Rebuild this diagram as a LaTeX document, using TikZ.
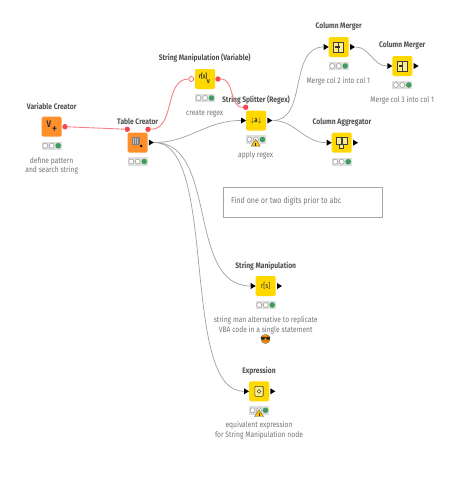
\documentclass[tikz,border=0pt]{standalone}
\usepackage{fontspec}
\usetikzlibrary{shapes.geometric}
\setmainfont[FakeStretch=0.84]{Fira Sans}
\newfontfamily\emojifont{Noto Emoji}
\definecolor{nodeyellow}{HTML}{FFD800}
\definecolor{nodeorange}{HTML}{FF8F2B}
\definecolor{portred}{HTML}{F2484F}
\definecolor{linkred}{HTML}{F27F85}
\definecolor{linkgray}{HTML}{A0A0A0}
\definecolor{titlegray}{HTML}{505050}
\definecolor{textgray}{HTML}{747474}
\definecolor{lightgreen}{HTML}{3F9E5F}
\tikzset{
  box/.style={rounded corners=1.5pt, minimum size=20pt, inner sep=0pt},
  yellowbox/.style={box, fill=nodeyellow},
  orangebox/.style={box, fill=nodeorange},
  tri/.style={isosceles triangle, isosceles triangle stretches, fill=black, minimum width=6pt, minimum height=5pt, inner sep=0pt},
  varport/.style={circle, fill=portred, minimum size=5.4pt, inner sep=0pt},
  hollowport/.style={circle, draw=portred, fill=white, line width=0.6pt, minimum size=5pt, inner sep=0pt},
  title/.style={font=\fontsize{8}{9}\selectfont\bfseries, text=titlegray, inner sep=0pt},
  caption/.style={font=\fontsize{8}{9.6}\selectfont, text=textgray, align=center, inner sep=0pt},
  glyph/.style={font=\fontsize{7}{8}\selectfont\bfseries, text=black!80, inner sep=0pt},
  redlink/.style={draw=linkred, line width=0.9pt},
  graylink/.style={draw=linkgray, line width=0.7pt},
  icon/.style={draw=black!75, line width=0.6pt, fill=nodeyellow!45!white},
  warnbox/.style={isosceles triangle, isosceles triangle stretches, shape border rotate=90, fill=nodeyellow!80!orange, draw=black!60, line width=0.4pt, minimum width=9pt, minimum height=7pt, inner sep=0pt}
}
% status bar under a node
\newcommand{\lights}[2]{
  \fill[black!13] (#1-10,#2+14.8) rectangle (#1+10,#2+23.2);
  \foreach \dx in {-6.5,0} \draw[black!45, fill=white, line width=0.4pt] (#1+\dx,#2+19) circle (2.5);
  \fill[lightgreen] (#1+6.5,#2+19) circle (2.8);
}
% yellow node with its two data ports
\newcommand{\datanode}[3]{
  \node[yellowbox] (#1) at (#2,#3) {};
  \node[tri] (#1-in) at (#2-13.3,#3) {};
  \node[tri] (#1-out) at (#2+13,#3) {};
  \lights{#2}{#3}
}
\begin{document}
\begin{tikzpicture}[x=1pt, y=-1pt]
  \useasboundingbox (0,0) rectangle (474,482);

  % orange nodes
  \node[orangebox] (varcreator) at (51.7,126.7) {};
  \lights{51.7}{126.7}
  \node[orangebox] (tablecreator) at (137.7,142.5) {};
  \lights{137.7}{142.5}
  \node[tri] (tablecreator-out) at (150.5,142.5) {};
  \node[varport] (varcreator-var) at (65,126.7) {};
  \node[varport] (tablecreator-varin) at (127.3,129.3) {};
  \node[varport] (tablecreator-varout) at (148,129.3) {};

  % variable node
  \node[yellowbox] (stringvar) at (205,79) {};
  \lights{205}{79}
  \node[hollowport] (stringvar-in) at (191.3,79) {};
  \node[varport] (stringvar-out) at (218,79) {};

  % yellow nodes
  \datanode{splitter}{256}{120.5}
  \node[varport] (splitter-var) at (245.7,107.3) {};
  \datanode{mergerone}{338.7}{47}
  \datanode{mergertwo}{402.3}{66}
  \datanode{aggregator}{341.7}{142.7}
  \datanode{stringman}{265.7}{286}
  \datanode{expression}{259}{391.3}

  % warnings
  \node[warnbox] (splitter-warn) at (255.7,143.7) {};
  \draw[black!80, line width=0.6pt] (255.7,142.5) -- (255.7,145.5);
  \node[warnbox] (expression-warn) at (259,414) {};
  \draw[black!80, line width=0.6pt] (259,412.8) -- (259,415.8);

  % titles
  \node[title] (t1) at (51.7,106) {Variable Creator};
  \node[title] (t2) at (137.7,122) {Table Creator};
  \node[title] (t3) at (204.7,58.3) {String Manipulation (Variable)};
  \node[title] (t4) at (256,100) {String Splitter (Regex)};
  \node[title] (t5) at (338.7,26.7) {Column Merger};
  \node[title] (t6) at (402.3,45.7) {Column Merger};
  \node[title] (t7) at (342,122.3) {Column Aggregator};
  \node[title] (t8) at (265.7,265.7) {String Manipulation};
  \node[title] (t9) at (259,370.7) {Expression};

  % captions
  \node[caption] (c1) at (51.7,165.8) {define pattern\\and search string};
  \node[caption] (c3) at (204.7,113.3) {create regex};
  \node[caption] (c4) at (255.7,155) {apply regex};
  \node[caption] (c5) at (338.3,81.3) {Merge col 2 into col 1};
  \node[caption] (c6) at (402.3,100.3) {Merge col 3 into col 1};
  \node[caption] (c8) at (265.7,325.3) {string man alternative to replicate\\VBA code in a single statement};
  \node[circle, fill=orange!85!yellow, minimum size=9pt, inner sep=0pt] (smile) at (265.7,339) {};
  \node[font=\fontsize{9}{9}\emojifont, text=black!85, inner sep=0pt] (smiletext) at (265.7,339) {😎};
  \node[caption] (c9) at (259,430.5) {equivalent expression\\for String Manipulation node};

  % note
  \node[draw=black!35, line width=0.8pt, minimum width=159pt, minimum height=30.4pt, inner sep=0pt] (note) at (302.8,202.5) {};
  \node[caption, font=\fontsize{8.5}{10}\selectfont, anchor=west] (notetext) at (231,200.7) {Find one or two digits prior to abc};

  % glyphs
  \node[glyph, font=\fontsize{9.5}{10}\selectfont\bfseries] (g1) at (49,124.5) {V};
  \node[glyph, font=\fontsize{11}{11}\selectfont\bfseries] (g1b) at (54.5,129) {+};
  \draw[black!50, fill=black!25, line width=0.3pt, step=2.2] (132.5,137.5) grid (139.1,144.1) rectangle (132.5,137.5);
  \fill[black] (141.2,146) circle (1.4);
  \node[glyph, font=\fontsize{6.5}{7}\selectfont\bfseries] (g3) at (203,76.5) {r[s]};
  \node[glyph, font=\fontsize{7}{7}\selectfont\bfseries] (g3b) at (208.5,82) {v};
  \node[glyph, font=\fontsize{7}{7}\selectfont\bfseries] (g4) at (256,120.5) {\raisebox{0pt}{$\downarrow$}a$\downarrow$};
  \node[glyph, font=\fontsize{7.5}{8}\selectfont] (g8) at (265.7,286) {r[s]};
  \foreach \cx/\cy in {338.7/47, 402.3/66} {
    \draw[icon] (\cx-5,\cy-5) rectangle (\cx+5,\cy+5);
    \draw[black!75, line width=0.6pt] (\cx,\cy-5) -- (\cx,\cy+5);
    \fill[black!80] (\cx-3.5,\cy-0.7) rectangle (\cx+1,\cy+0.7);
  }
  \draw[icon] (336.5,137.3) rectangle (341,144.5);
  \draw[icon] (342.5,137.3) rectangle (347,144.5);
  \draw[icon] (339.7,144.5) rectangle (343.7,148.3);
  \draw[icon, rounded corners=1pt] (254.8,386.3) rectangle (263.2,396.3);
  \draw[black!70, line width=0.5pt] (259,391.3) circle (1.9);

  % connectors
  \draw[redlink] (varcreator-var) -- (tablecreator-varin);
  \draw[redlink] (tablecreator-varout) to[out=0, in=180] (stringvar-in);
  \draw[redlink] (stringvar-out) to[out=0, in=180] (splitter-var);
  \draw[graylink] (tablecreator-out.east) to[out=0, in=180] (splitter-in.west);
  \draw[graylink] (tablecreator-out.east) to[out=0, in=180, looseness=0.95] (stringman-in.west);
  \draw[graylink] (tablecreator-out.east) to[out=0, in=180, looseness=0.62] (expression-in.west);
  \draw[graylink] (splitter-out.east) to[out=0, in=180] (mergerone-in.west);
  \draw[graylink] (splitter-out.east) to[out=0, in=180] (aggregator-in.west);
  \draw[graylink] (mergerone-out.east) to[out=0, in=180] (mergertwo-in.west);
\end{tikzpicture}
\end{document}
